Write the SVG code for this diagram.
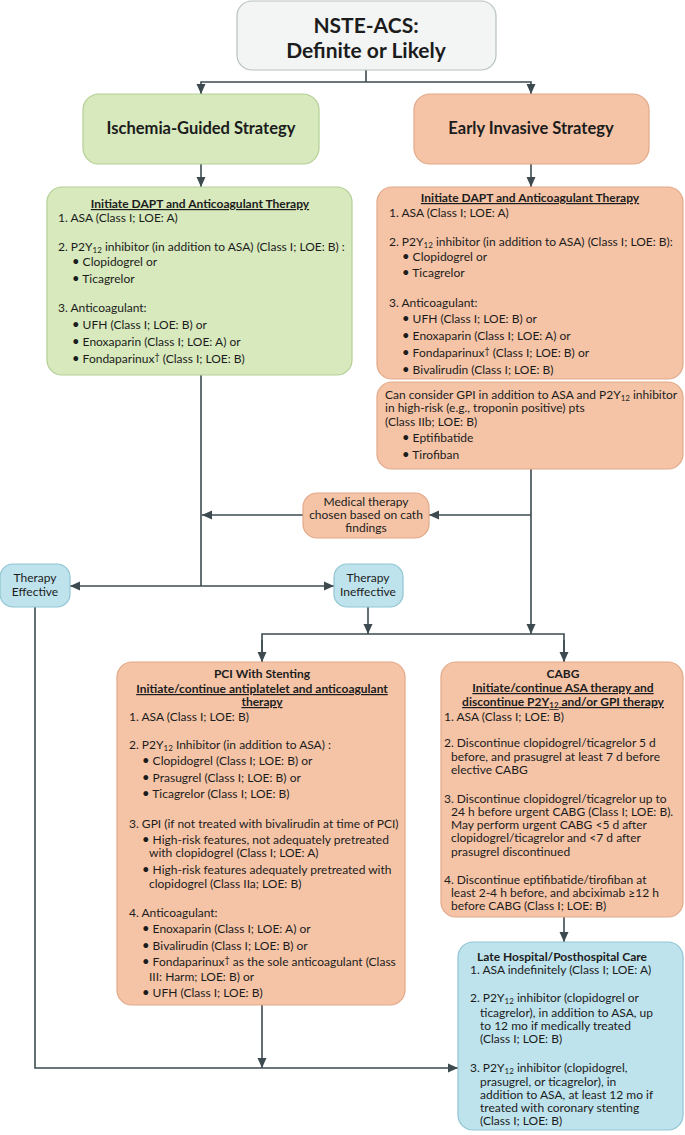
<svg xmlns="http://www.w3.org/2000/svg" width="685" height="1135" viewBox="0 0 685 1135">
<defs>
<style>
.t{font-family:Lato,"Liberation Sans",sans-serif;font-size:12px;fill:#1c1c1c}
.b{font-weight:bold}
.u{text-decoration:underline}
.c{text-anchor:middle}
.s{font-size:8px}
.d{font-size:13px}
.h{font-family:Lato,"Liberation Sans",sans-serif;font-weight:bold;fill:#1c1c1c;text-anchor:middle}
.grey{fill:#f3f5f4;stroke:#b7c2bf;stroke-width:1.2}
.green{fill:#d7e9bd;stroke:#b3cf95;stroke-width:1.2}
.salmon{fill:#f5c4a7;stroke:#e2a888;stroke-width:1.2}
.blue{fill:#bfe3ec;stroke:#8fc5d3;stroke-width:1.2}
.conn{stroke:#3d4b50;stroke-width:1.6;fill:none}
</style>
<marker id="ah" viewBox="0 0 10 10" refX="10" refY="5" markerWidth="10" markerHeight="10" markerUnits="userSpaceOnUse" orient="auto">
<path d="M0,0.5 L10,5 L0,9.5 z" fill="#3d4b50"/>
</marker>
</defs>
<rect width="685" height="1135" fill="#ffffff"/>

<g id="connectors">
<path class="conn" d="M366,70 V82"/>
<path class="conn" d="M366,82 H201 V94" marker-end="url(#ah)"/>
<path class="conn" d="M366,82 H531 V94" marker-end="url(#ah)"/>
<path class="conn" d="M201,164 V187" marker-end="url(#ah)"/>
<path class="conn" d="M531,164 V187" marker-end="url(#ah)"/>
<path class="conn" d="M201,375 V586"/>
<path class="conn" d="M531,469 V634" marker-end="url(#ah)"/>
<path class="conn" d="M531,515 H429" marker-end="url(#ah)"/>
<path class="conn" d="M303,515 H202" marker-end="url(#ah)"/>
<path class="conn" d="M201,586 H70" marker-end="url(#ah)"/>
<path class="conn" d="M201,586 H334" marker-end="url(#ah)"/>
<path class="conn" d="M368,607 V634" marker-end="url(#ah)"/>
<path class="conn" d="M262,662 V634 H564 V662" />
<path class="conn" d="M262,640 V662" marker-end="url(#ah)"/>
<path class="conn" d="M564,640 V662" marker-end="url(#ah)"/>
<path class="conn" d="M564,917 V942" marker-end="url(#ah)"/>
<path class="conn" d="M262,1005 V1068" marker-end="url(#ah)"/>
<path class="conn" d="M35,607 V1068 H458" marker-end="url(#ah)"/>
</g>

<g id="nste">
<rect class="grey" x="237" y="1" width="259" height="69" rx="15"/>
<text class="h" x="366" y="33" font-size="21">NSTE-ACS:</text>
<text class="h" x="366" y="58" font-size="21">Definite or Likely</text>
</g>

<g id="ischemia">
<rect class="green" x="83" y="94" width="236" height="70" rx="16"/>
<text class="h" x="201" y="134" font-size="16.5">Ischemia-Guided Strategy</text>
</g>

<g id="invasive">
<rect class="salmon" x="414" y="94" width="235" height="70" rx="16"/>
<text class="h" x="531" y="134" font-size="16.5">Early Invasive Strategy</text>
</g>

<g id="ischemia-therapy">
<rect class="green" x="47" y="187" width="305" height="188" rx="15"/>
<text class="t b u c" x="200" y="208">Initiate DAPT and Anticoagulant Therapy</text>
<text class="t" x="58" y="222">1. ASA (Class I; LOE: A)</text>
<text class="t" x="58" y="251">2. P2Y<tspan class="s" dy="2">12</tspan><tspan dy="-2"> inhibitor (in addition to ASA) (Class I; LOE: B) :</tspan></text>
<text class="t" x="72" y="266"><tspan class="d">•</tspan> Clopidogrel or</text>
<text class="t" x="72" y="283"><tspan class="d">•</tspan> Ticagrelor</text>
<text class="t" x="58" y="312">3. Anticoagulant:</text>
<text class="t" x="72" y="329"><tspan class="d">•</tspan> UFH (Class I; LOE: B) or</text>
<text class="t" x="72" y="346"><tspan class="d">•</tspan> Enoxaparin (Class I; LOE: A) or</text>
<text class="t" x="72" y="363"><tspan class="d">•</tspan> Fondaparinux<tspan font-size="9" dy="-3">†</tspan><tspan dy="3"> (Class I; LOE: B)</tspan></text>
</g>

<g id="invasive-therapy">
<rect class="salmon" x="377" y="187" width="306" height="192" rx="15"/>
<text class="t b u c" x="530" y="202">Initiate DAPT and Anticoagulant Therapy</text>
<text class="t" x="389" y="217">1. ASA (Class I; LOE: A)</text>
<text class="t" x="389" y="246">2. P2Y<tspan class="s" dy="2">12</tspan><tspan dy="-2"> inhibitor (in addition to ASA) (Class I; LOE: B):</tspan></text>
<text class="t" x="402" y="261"><tspan class="d">•</tspan> Clopidogrel or</text>
<text class="t" x="402" y="277"><tspan class="d">•</tspan> Ticagrelor</text>
<text class="t" x="389" y="307">3. Anticoagulant:</text>
<text class="t" x="402" y="323"><tspan class="d">•</tspan> UFH (Class I; LOE: B) or</text>
<text class="t" x="402" y="340"><tspan class="d">•</tspan> Enoxaparin (Class I; LOE: A) or</text>
<text class="t" x="402" y="357"><tspan class="d">•</tspan> Fondaparinux<tspan font-size="9" dy="-3">†</tspan><tspan dy="3"> (Class I; LOE: B) or</tspan></text>
<text class="t" x="402" y="374"><tspan class="d">•</tspan> Bivalirudin (Class I; LOE: B)</text>
</g>

<g id="gpi">
<rect class="salmon" x="377" y="382" width="306" height="87" rx="15"/>
<text class="t" x="385" y="399">Can consider GPI in addition to ASA and P2Y<tspan class="s" dy="2">12</tspan><tspan dy="-2"> inhibitor</tspan></text>
<text class="t" x="385" y="412">in high-risk (e.g., troponin positive) pts</text>
<text class="t" x="385" y="426">(Class IIb; LOE: B)</text>
<text class="t" x="402" y="442"><tspan class="d">•</tspan> Eptifibatide</text>
<text class="t" x="402" y="459"><tspan class="d">•</tspan> Tirofiban</text>
</g>

<g id="medical">
<rect class="salmon" x="303" y="493" width="126" height="45" rx="14"/>
<text class="t c" x="366" y="506" font-size="11.5">Medical therapy</text>
<text class="t c" x="366" y="519" font-size="11.5">chosen based on cath</text>
<text class="t c" x="366" y="532" font-size="11.5">findings</text>
</g>

<g id="effective">
<rect class="blue" x="0" y="564" width="70" height="43" rx="13"/>
<text class="t c" x="35" y="582">Therapy</text>
<text class="t c" x="35" y="596">Effective</text>
</g>

<g id="ineffective">
<rect class="blue" x="334" y="564" width="69" height="43" rx="13"/>
<text class="t c" x="368" y="582">Therapy</text>
<text class="t c" x="368" y="596">Ineffective</text>
</g>

<g id="pci">
<rect class="salmon" x="117" y="662" width="288" height="343" rx="15"/>
<text class="t b c" x="262" y="678">PCI With Stenting</text>
<text class="t b u c" x="262" y="693">Initiate/continue antiplatelet and anticoagulant</text>
<text class="t b u c" x="262" y="706">therapy</text>
<text class="t" x="129" y="721">1. ASA (Class I; LOE: B)</text>
<text class="t" x="129" y="749">2. P2Y<tspan class="s" dy="2">12</tspan><tspan dy="-2"> Inhibitor (in addition to ASA) :</tspan></text>
<text class="t" x="142" y="765"><tspan class="d">•</tspan> Clopidogrel (Class I; LOE: B) or</text>
<text class="t" x="142" y="782"><tspan class="d">•</tspan> Prasugrel (Class I; LOE: B) or</text>
<text class="t" x="142" y="798"><tspan class="d">•</tspan> Ticagrelor (Class I; LOE: B)</text>
<text class="t" x="129" y="828">3. GPI (if not treated with bivalirudin at time of PCI)</text>
<text class="t" x="142" y="844"><tspan class="d">•</tspan> High-risk features, not adequately pretreated</text>
<text class="t" x="149" y="857">with clopidogrel (Class I; LOE: A)</text>
<text class="t" x="142" y="874"><tspan class="d">•</tspan> High-risk features adequately pretreated with</text>
<text class="t" x="149" y="888">clopidogrel (Class IIa; LOE: B)</text>
<text class="t" x="129" y="917">4. Anticoagulant:</text>
<text class="t" x="142" y="933"><tspan class="d">•</tspan> Enoxaparin (Class I; LOE: A) or</text>
<text class="t" x="142" y="950"><tspan class="d">•</tspan> Bivalirudin (Class I; LOE: B) or</text>
<text class="t" x="142" y="966"><tspan class="d">•</tspan> Fondaparinux<tspan font-size="9" dy="-3">†</tspan><tspan dy="3"> as the sole anticoagulant (Class</tspan></text>
<text class="t" x="149" y="981">III: Harm; LOE: B) or</text>
<text class="t" x="142" y="997"><tspan class="d">•</tspan> UFH (Class I; LOE: B)</text>
</g>

<g id="cabg">
<rect class="salmon" x="441" y="662" width="242" height="255" rx="15"/>
<text class="t b c" x="563" y="678">CABG</text>
<text class="t b u c" x="563" y="692">Initiate/continue ASA therapy and</text>
<text class="t b u c" x="563" y="706">discontinue P2Y<tspan class="s" dy="2">12</tspan><tspan dy="-2"> and/or GPI therapy</tspan></text>
<text class="t" x="444" y="721">1. ASA (Class I; LOE: B)</text>
<text class="t" x="444" y="747">2. Discontinue clopidogrel/ticagrelor 5 d</text>
<text class="t" x="451" y="761">before, and prasugrel at least 7 d before</text>
<text class="t" x="451" y="774">elective CABG</text>
<text class="t" x="444" y="803">3. Discontinue clopidogrel/ticagrelor up to</text>
<text class="t" x="451" y="816">24 h before urgent CABG (Class I; LOE: B).</text>
<text class="t" x="451" y="829">May perform urgent CABG &lt;5 d after</text>
<text class="t" x="451" y="842">clopidogrel/ticagrelor and &lt;7 d after</text>
<text class="t" x="451" y="856">prasugrel discontinued</text>
<text class="t" x="444" y="884">4. Discontinue eptifibatide/tirofiban at</text>
<text class="t" x="451" y="897">least 2-4 h before, and abciximab ≥12 h</text>
<text class="t" x="451" y="910">before CABG (Class I; LOE: B)</text>
</g>

<g id="late">
<rect class="blue" x="458" y="942" width="225" height="188" rx="15"/>
<text class="t b c" x="562" y="961">Late Hospital/Posthospital Care</text>
<text class="t" x="470" y="974">1. ASA indefinitely (Class I; LOE: A)</text>
<text class="t" x="470" y="1002">2. P2Y<tspan class="s" dy="2">12</tspan><tspan dy="-2"> inhibitor (clopidogrel or</tspan></text>
<text class="t" x="480" y="1017">ticagrelor), in addition to ASA, up</text>
<text class="t" x="480" y="1030">to 12 mo if medically treated</text>
<text class="t" x="480" y="1043">(Class I; LOE: B)</text>
<text class="t" x="470" y="1072">3. P2Y<tspan class="s" dy="2">12</tspan><tspan dy="-2"> inhibitor (clopidogrel,</tspan></text>
<text class="t" x="480" y="1086">prasugrel, or ticagrelor), in</text>
<text class="t" x="480" y="1099">addition to ASA, at least 12 mo if</text>
<text class="t" x="480" y="1112">treated with coronary stenting</text>
<text class="t" x="480" y="1125">(Class I; LOE: B)</text>
</g>
</svg>
